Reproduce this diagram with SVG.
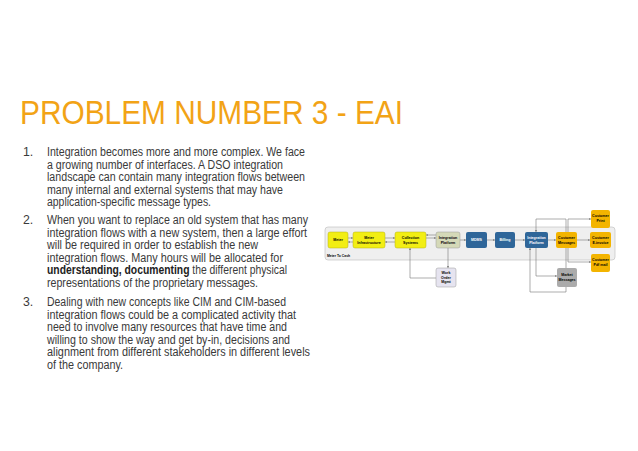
<svg xmlns="http://www.w3.org/2000/svg" width="638" height="451" viewBox="0 0 638 451">
<style>
.t{font-family:"Liberation Sans",Arial,sans-serif;font-size:12.3px;fill:#3a3a3a}
.b{font-weight:bold;fill:#222}
.n{font-family:"Liberation Sans",Arial,sans-serif;font-size:3.6px;font-weight:bold;text-anchor:middle}
.c{fill:none;stroke:#777;stroke-width:0.6}
</style>
<defs><marker id="a" markerWidth="4" markerHeight="4" refX="3.5" refY="2" orient="auto"><path d="M0,0.5L3.5,2L0,3.5z" fill="#666"/></marker></defs>
<rect width="638" height="451" fill="#fff"/>
<text x="20" y="124" font-family="Liberation Sans,Arial,sans-serif" font-size="34" fill="#F2A316" textLength="383" lengthAdjust="spacingAndGlyphs">PROBLEM NUMBER 3 - EAI</text>
<g class="t">
<text x="23" y="156">1.</text><text x="23" y="224">2.</text><text x="23" y="306">3.</text>
<text x="47" y="156" textLength="258" lengthAdjust="spacingAndGlyphs">Integration becomes more and more complex. We face</text>
<text x="47" y="168.5" textLength="236" lengthAdjust="spacingAndGlyphs">a growing number of interfaces. A DSO integration</text>
<text x="47" y="181" textLength="258" lengthAdjust="spacingAndGlyphs">landscape can contain many integration flows between</text>
<text x="47" y="193.5" textLength="236" lengthAdjust="spacingAndGlyphs">many internal and external systems that may have</text>
<text x="47" y="206" textLength="164" lengthAdjust="spacingAndGlyphs">application-specific message types.</text>
<text x="47" y="224" textLength="261" lengthAdjust="spacingAndGlyphs">When you want to replace an old system that has many</text>
<text x="47" y="236.5" textLength="260" lengthAdjust="spacingAndGlyphs">integration flows with a new system, then a large effort</text>
<text x="47" y="249" textLength="211" lengthAdjust="spacingAndGlyphs">will be required in order to establish the new</text>
<text x="47" y="261.5" textLength="236" lengthAdjust="spacingAndGlyphs">integration flows. Many hours will be allocated for</text>
<text x="47" y="274" textLength="240" lengthAdjust="spacingAndGlyphs"><tspan class="b">understanding, documenting</tspan> the different physical</text>
<text x="47" y="286.5" textLength="211" lengthAdjust="spacingAndGlyphs">representations of the proprietary messages.</text>
<text x="47" y="306" textLength="239" lengthAdjust="spacingAndGlyphs">Dealing with new concepts like CIM and CIM-based</text>
<text x="47" y="318.5" textLength="249" lengthAdjust="spacingAndGlyphs">integration flows could be a complicated activity that</text>
<text x="47" y="331" textLength="240" lengthAdjust="spacingAndGlyphs">need to involve many resources that have time and</text>
<text x="47" y="343.5" textLength="243" lengthAdjust="spacingAndGlyphs">willing to show the way and get by-in, decisions and</text>
<text x="47" y="356" textLength="263" lengthAdjust="spacingAndGlyphs">alignment from different stakeholders in different levels</text>
<text x="47" y="368.5" textLength="76" lengthAdjust="spacingAndGlyphs">of the company.</text>
</g>
<g id="band"><rect x="325" y="227" width="290" height="33" rx="3" fill="#efefef" stroke="#bbb" stroke-width="0.6"/><text x="327" y="257" font-family="Liberation Sans,Arial,sans-serif" font-size="3.4" font-weight="bold">Meter To Cash</text></g>
<g id="connectors" class="c">
<path d="M348,238H353" marker-end="url(#a)"/><path d="M353,242H348" marker-end="url(#a)"/>
<path d="M385,238H395" marker-end="url(#a)"/><path d="M395,242H385" marker-end="url(#a)"/>
<path d="M426,238H436" marker-end="url(#a)"/><path d="M436,235H426" marker-end="url(#a)"/>
<path d="M460,240H466" marker-end="url(#a)"/><path d="M487,240H495" marker-end="url(#a)"/>
<path d="M515,240H525" marker-end="url(#a)"/><path d="M548,240H556" marker-end="url(#a)"/>
<path d="M577,240H590" marker-end="url(#a)"/>
<path d="M448,248V268" marker-end="url(#a)"/>
<path d="M436,278H410V248" marker-end="url(#a)"/>
<path d="M566,232V219H536V232" marker-end="url(#a)"/>
<path d="M536,248V276H557" marker-end="url(#a)"/>
<path d="M566,268V248" />
<path d="M566,287V292H530V248" marker-end="url(#a)"/>
<path d="M568,232V219H591" marker-end="url(#a)"/>
<path d="M568,248V262H591" marker-end="url(#a)"/>
</g>
<g id="meter"><rect x="328" y="232" width="20" height="16" rx="2" fill="#F2EE14" stroke="#b5b010" stroke-width="0.5"/><text class="n" x="338" y="241">Meter</text></g>
<g id="meterinfra"><rect x="353" y="232" width="32" height="16" rx="2" fill="#F2EE14" stroke="#b5b010" stroke-width="0.5"/><text class="n" x="369" y="239">Meter</text><text class="n" x="369" y="243.5">Infrastructure</text></g>
<g id="collection"><rect x="395" y="232" width="31" height="16" rx="2" fill="#F2EE14" stroke="#b5b010" stroke-width="0.5"/><text class="n" x="410.5" y="239">Collection</text><text class="n" x="410.5" y="243.5">Systems</text></g>
<g id="ip1"><rect x="436" y="232" width="24" height="16" rx="2" fill="#D5D9B8" stroke="#999" stroke-width="0.5"/><text class="n" x="448" y="239">Integration</text><text class="n" x="448" y="243.5">Platform</text></g>
<g id="mdms"><rect x="466" y="232" width="21" height="16" rx="2" fill="#2F6699"/><text class="n" x="476.5" y="241" fill="#fff">MDMS</text></g>
<g id="billing"><rect x="495" y="232" width="20" height="16" rx="2" fill="#2F6699"/><text class="n" x="505" y="241" fill="#fff">Billing</text></g>
<g id="ip2"><rect x="525" y="232" width="23" height="16" rx="2" fill="#2F6699"/><text class="n" x="536.5" y="239" fill="#fff">Integration</text><text class="n" x="536.5" y="243.5" fill="#fff">Platform</text></g>
<g id="custmsg"><rect x="556" y="232" width="21" height="16" rx="2" fill="#F3B400"/><text class="n" x="566.5" y="239">Customer</text><text class="n" x="566.5" y="243.5">Messages</text></g>
<g id="print"><rect x="591" y="210" width="19" height="18" rx="2" fill="#F3B400"/><text class="n" x="600.5" y="217">Customer</text><text class="n" x="600.5" y="221.5">Print</text></g>
<g id="einvoice"><rect x="590" y="232" width="21" height="16" rx="2" fill="#F3B400"/><text class="n" x="600.5" y="239">Customer</text><text class="n" x="600.5" y="243.5">E-invoice</text></g>
<g id="pdf"><rect x="591" y="254" width="19" height="18" rx="2" fill="#F3B400"/><text class="n" x="600.5" y="261">Customer</text><text class="n" x="600.5" y="265.5">Pdf mail</text></g>
<g id="workorder"><rect x="436" y="268" width="20" height="19" rx="2" fill="#E6E4F0" stroke="#999" stroke-width="0.5"/><text class="n" x="446" y="274">Work</text><text class="n" x="446" y="278.5">Order</text><text class="n" x="446" y="283">Mgmt</text></g>
<g id="market"><rect x="557" y="268" width="20" height="19" rx="2" fill="#ABABAB"/><text class="n" x="567" y="276">Market</text><text class="n" x="567" y="280.5">Messages</text></g>
</svg>
